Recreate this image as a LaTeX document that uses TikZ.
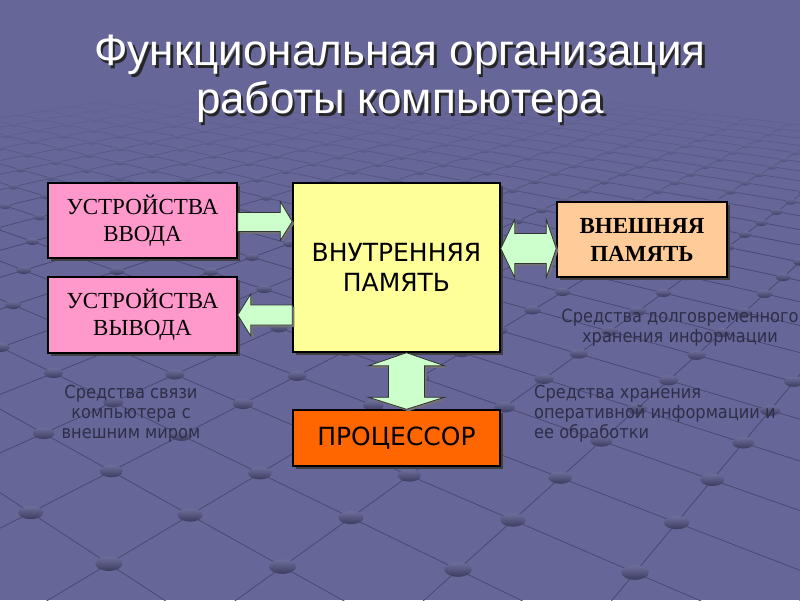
\documentclass[tikz,border=0pt]{standalone}
\usepackage{fontspec}
\setmainfont{Liberation Serif}
\newfontfamily\titlefont{Liberation Sans}
\newfontfamily\boxsans{DejaVu Sans}
\newfontfamily\notefont[FakeStretch=0.9]{DejaVu Sans}
\usetikzlibrary{calc,shadows}

\begin{document}
\begin{tikzpicture}[x=1pt,y=-1pt]

\definecolor{slidebg}{HTML}{666699}
\definecolor{gridink}{HTML}{46466F}
\definecolor{dottop}{HTML}{6E6E9C}
\definecolor{dotbottom}{HTML}{3C3C60}
\definecolor{devpink}{HTML}{FF99CC}
\definecolor{ramyellow}{HTML}{FFFF99}
\definecolor{extpeach}{HTML}{FFCC99}
\definecolor{cpuorange}{HTML}{FF6600}
\definecolor{arrowgreen}{HTML}{CCFFCC}
\definecolor{noteink}{HTML}{2E2E48}

\tikzset{
  devbox/.style={
    draw=black, line width=1.5pt, inner sep=0pt, align=center,
    drop shadow={shadow xshift=3pt, shadow yshift=-3pt, fill=black!75, opacity=1}
  },
  serifcaps/.style={font=\fontsize{23}{27}\selectfont},
  boldcaps/.style={font=\bfseries\fontsize{23}{28}\selectfont},
  sanscaps/.style={font=\boxsans\fontsize{25}{30}\selectfont},
  blockarrow/.style={
    fill=arrowgreen, draw=black!80, line width=0.8pt,
    drop shadow={shadow xshift=2pt, shadow yshift=-2pt, fill=black!55, opacity=1}
  },
  gridline/.style={draw=gridink, line width=0.7pt},
  note/.style={text=noteink, inner sep=0pt, font=\notefont\fontsize{18}{20}\selectfont},
  titletext/.style={align=center, inner sep=0pt, font=\titlefont\fontsize{44}{48}\selectfont}
}

% Slide background.
\useasboundingbox (0,0) rectangle (800,600);
\fill[slidebg] (0,0) rectangle (800,600);

% Floor grid in perspective: x = 400 + 988 X/Z, y = -73 + 988/Z.
\begin{scope}
\clip (0,0) rectangle (800,600);
\foreach \i in {-3,...,25} {
  \pgfmathsetmacro{\za}{1.68+0.1284*\i+0.1355*16}
  \pgfmathsetmacro{\xa}{-0.357+0.1004*\i-0.1734*16}
  \pgfmathsetmacro{\zb}{1.68+0.1284*\i-0.1355*5}
  \pgfmathsetmacro{\xb}{-0.357+0.1004*\i+0.1734*5}
  \draw[gridline] ({400+988*\xa/\za},{-73+988/\za}) -- ({400+988*\xb/\zb},{-73+988/\zb});
}
\foreach \j in {-16,...,5} {
  \pgfmathsetmacro{\za}{1.68-0.1284*3-0.1355*\j}
  \pgfmathsetmacro{\xa}{-0.357-0.1004*3+0.1734*\j}
  \pgfmathsetmacro{\zb}{1.68+0.1284*25-0.1355*\j}
  \pgfmathsetmacro{\xb}{-0.357+0.1004*25+0.1734*\j}
  \draw[gridline] ({400+988*\xa/\za},{-73+988/\za}) -- ({400+988*\xb/\zb},{-73+988/\zb});
}
\foreach \i in {-3,...,25} {
  \foreach \j in {-16,...,5} {
    \pgfmathsetmacro{\zz}{1.68+0.1284*\i-0.1355*\j}
    \pgfmathsetmacro{\xx}{-0.357+0.1004*\i+0.1734*\j}
    \shade[top color=dottop, bottom color=dotbottom]
      ({400+988*\xx/\zz},{-73+988/\zz}) ellipse ({21/\zz} and {11/\zz});
  }
}
% the floor fades out towards the title
\fill[slidebg] (0,0) rectangle (800,100);
\foreach \k in {0,...,27}
  \fill[slidebg, opacity={0.9-0.9*\k/28}] (0,{100+5*\k}) rectangle (800,{105+5*\k});
\end{scope}

% Title with its shadow.
\node[titletext, text=black!85] (titleshadow) at (402.5,81.5)
  {Функциональная организация\\работы компьютера};
\node[titletext, text=white] (title) at (400,79)
  {Функциональная организация\\работы компьютера};

% Blocks.
\node[devbox, serifcaps, fill=devpink, minimum width=189, minimum height=75]
  (inbox) at (142.5,220.5) {УСТРОЙСТВА\\ВВОДА};
\node[devbox, serifcaps, fill=devpink, minimum width=189, minimum height=76]
  (outbox) at (142.5,315) {УСТРОЙСТВА\\ВЫВОДА};
\node[devbox, sanscaps, fill=ramyellow, minimum width=207, minimum height=169]
  (ram) at (396.5,267.5) {ВНУТРЕННЯЯ\\ПАМЯТЬ};
\node[devbox, boldcaps, fill=extpeach, minimum width=170, minimum height=75]
  (ext) at (642,239.5) {ВНЕШНЯЯ\\ПАМЯТЬ};
\node[devbox, sanscaps, fill=cpuorange, minimum width=207, minimum height=56]
  (cpu) at (396.5,438) {ПРОЦЕССОР};

% Block arrows between the blocks.
\draw[blockarrow] let \p1=(inbox.east), \p2=(ram.west) in
  (\x1,\y1+8pt) -- (\x2-12pt,\y1+8pt) -- (\x2-12pt,\y1+19pt) -- (\x2,\y1-1pt)
  -- (\x2-12pt,\y1-20pt) -- (\x2-12pt,\y1-11pt) -- (\x1,\y1-11pt) -- cycle;
\draw[blockarrow] let \p1=(ram.west), \p2=(outbox.east) in
  (\x1,\y2+10pt) -- (\x2+13pt,\y2+10pt) -- (\x2+13pt,\y2+21pt) -- (\x2,\y2)
  -- (\x2+13pt,\y2-21pt) -- (\x2+13pt,\y2-10pt) -- (\x1,\y2-10pt) -- cycle;
\draw[blockarrow] let \p1=(ram.east), \p2=(ext.west) in
  (\x1,\y2-9pt) -- (\x1+14pt,\y2+20pt) -- (\x1+14pt,\y2+6pt) -- (\x2-10pt,\y2+6pt)
  -- (\x2-10pt,\y2+20pt) -- (\x2,\y2-9pt) -- (\x2-10pt,\y2-38pt) -- (\x2-10pt,\y2-24pt)
  -- (\x1+14pt,\y2-24pt) -- (\x1+14pt,\y2-38pt) -- cycle;
\draw[blockarrow] let \p1=(ram.south), \p2=(cpu.north) in
  (\x1+10pt,\y1) -- (\x1+48pt,\y1-13pt) -- (\x1+28pt,\y1-13pt) -- (\x1+28pt,\y2+12pt)
  -- (\x1+48pt,\y2+12pt) -- (\x1+10pt,\y2) -- (\x1-28pt,\y2+12pt) -- (\x1-8pt,\y2+12pt)
  -- (\x1-8pt,\y1-13pt) -- (\x1-28pt,\y1-13pt) -- cycle;

% Notes under the blocks.
\node[note, align=center] (linknote) at (131,414)
  {Средства связи\\компьютера с\\внешним миром};
\node[note, align=left, anchor=west] (ramnote) at (534,414)
  {Средства хранения\\оперативной информации и\\ее обработки};
\node[note, align=center] (extnote) at (680,328)
  {Средства долговременного\\хранения информации};

\end{tikzpicture}
\end{document}
